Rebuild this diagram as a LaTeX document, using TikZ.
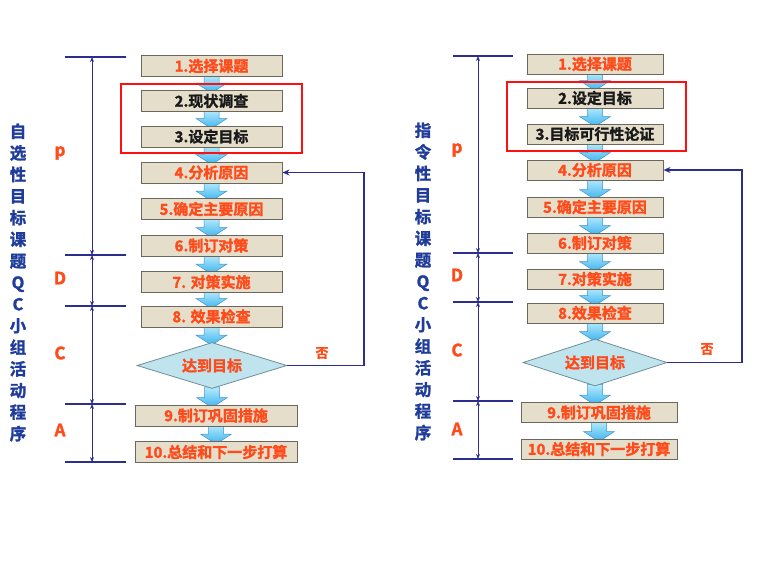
\documentclass[tikz,border=0pt]{standalone}
\usepackage{fontspec}
\setmainfont{Noto Sans CJK SC Bold}[FakeBold=1.6]
\usetikzlibrary{shapes.geometric,arrows.meta,calc}
\pgfdeclarelayer{bg}\pgfsetlayers{bg,main}
\definecolor{qcred}{HTML}{FF4A1A}
\definecolor{qcblue}{HTML}{1F3C9A}
\definecolor{navy}{HTML}{2B2E8C}
\definecolor{boxfill}{HTML}{E5DECB}
\definecolor{boxline}{HTML}{6B675C}
\definecolor{dfill}{HTML}{BFE4EE}
\definecolor{dline}{HTML}{6E8E98}
\definecolor{atop}{HTML}{B5ECFD}
\definecolor{abot}{HTML}{3EB2EE}
\definecolor{aline}{HTML}{3A92CC}
\definecolor{frame}{HTML}{FF1010}
\tikzset{
  stepbox/.style={draw=boxline, fill=boxfill, line width=1pt, inner sep=0pt,
    minimum width=#1, minimum height=21pt,
    font=\fontsize{15}{15}\selectfont, text=qcred},
  blk/.style={text=black!90},
  decide/.style={diamond, draw=dline, fill=dfill, line width=0.8pt, inner sep=0pt,
    minimum width=#1, minimum height=46pt, aspect=3.2,
    font=\fontsize{15}{15}\selectfont, text=qcred},
  redframe/.style={draw=frame, line width=2.6pt},
  fb/.style={draw=navy, line width=1.6pt, -{Stealth[length=7pt,width=6pt]}},
  tickline/.style={draw=navy, line width=1.8pt},
  brk/.style={draw=navy, line width=0.9pt, {Stealth[length=5pt,width=4pt]}-{Stealth[length=5pt,width=4pt]}},
  phase/.style={font=\fontsize{17}{17}\selectfont, text=qcred},
  nolabel/.style={font=\fontsize{13}{13}\selectfont, text=qcred},
  vtext/.style={font=\fontsize{16.5}{21.6}\selectfont, text=qcblue, align=center, inner sep=0pt},
  barrow/.style={top color=atop, bottom color=abot, draw=aline, line width=0.5pt}
}
\newcommand\blockarr[2]{%
  \begin{pgfonlayer}{bg}
  \path[barrow] let \p1=(#1.south), \p2=(#2.north) in
    (\x1-7.5pt,\y1+2pt) -- (\x1+7.5pt,\y1+2pt) -- (\x1+7.5pt,\y2+7pt) --
    (\x1+15.5pt,\y2+7pt) -- (\x1,\y2-3pt) -- (\x1-15.5pt,\y2+7pt) --
    (\x1-7.5pt,\y2+7pt) -- cycle;
  \end{pgfonlayer}}
\begin{document}
\begin{tikzpicture}[x=1pt,y=-1pt]
\useasboundingbox (0,0) rectangle (760,570);

% ---------------- LEFT PANEL ----------------
\node[stepbox=141] (L1) at (211.5,66) {1.选择课题};
\node[stepbox=141,blk] (L2) at (211.5,101) {2.现状调查};
\node[stepbox=141,blk] (L3) at (211.5,136.5) {3.设定目标};
\node[stepbox=141] (L4) at (211.5,172.5) {4.分析原因};
\node[stepbox=141] (L5) at (211.5,209) {5.确定主要原因};
\node[stepbox=141] (L6) at (211.5,245.5) {6.制订对策};
\node[stepbox=141] (L7) at (211.5,282) {7. 对策实施};
\node[stepbox=141] (L8) at (211.5,316.5) {8. 效果检查};
\node[decide=150] (LD) at (212,365.5) {达到目标};
\node[stepbox=162] (L9) at (216,415.5) {9.制订巩固措施};
\node[stepbox=162] (L10) at (216,452) {10.总结和下一步打算};

\blockarr{L1}{L2}\blockarr{L2}{L3}\blockarr{L3}{L4}\blockarr{L4}{L5}
\blockarr{L5}{L6}\blockarr{L6}{L7}\blockarr{L7}{L8}\blockarr{L8}{LD}
\blockarr{LD}{L9}\blockarr{L9}{L10}

\draw[redframe] (121,84) rectangle (302,153);

\coordinate (LF) at (364,0);
\draw[fb] (LD.east) -- (LD.east -| LF) |- (L4.east);
\node[nolabel] (Lno) at (322,353) {否};

\coordinate (Lt1) at (92,57);
\coordinate (Lt2) at (92,255);
\coordinate (Lt3) at (92,306);
\coordinate (Lt4) at (92,404);
\coordinate (Lt5) at (92,462);
\foreach \t in {Lt1,Lt2,Lt3,Lt4,Lt5}
  \draw[tickline] ([xshift=-27pt]\t) -- ([xshift=34pt]\t);
\draw[brk] (Lt1) -- (Lt2);
\draw[brk] (Lt2) -- (Lt3);
\draw[brk] (Lt3) -- (Lt4);
\draw[brk] (Lt4) -- (Lt5);
\node[phase] (Lp) at (60,153) {p};
\node[phase] (LDl) at (60,278) {D};
\node[phase] (LCl) at (60,353) {C};
\node[phase] (LAl) at (60,430) {A};
\node[vtext] (Lv) at (18,282.5) {自\\选\\性\\目\\标\\课\\题\\Q\\C\\小\\组\\活\\动\\程\\序};

% ---------------- RIGHT PANEL ----------------
\node[stepbox=136,minimum height=20pt] (R1) at (595,64) {1.选择课题};
\node[stepbox=136,minimum height=20pt,blk] (R2) at (595,98) {2.设定目标};
\node[stepbox=136,minimum height=20pt,blk] (R3) at (595,134) {3.目标可行性论证};
\node[stepbox=136,minimum height=20pt] (R4) at (595,170) {4.分析原因};
\node[stepbox=136,minimum height=20pt] (R5) at (595,207) {5.确定主要原因};
\node[stepbox=136,minimum height=20pt] (R6) at (595,243) {6.制订对策};
\node[stepbox=136,minimum height=20pt] (R7) at (595,279) {7.对策实施};
\node[stepbox=136,minimum height=20pt] (R8) at (595,313) {8.效果检查};
\node[decide=144,minimum height=47pt] (RD) at (595,362.5) {达到目标};
\node[stepbox=156,minimum height=20pt] (R9) at (599,412.5) {9.制订巩固措施};
\node[stepbox=156,minimum height=20pt] (R10) at (599,449) {10.总结和下一步打算};

\blockarr{R1}{R2}\blockarr{R2}{R3}\blockarr{R3}{R4}\blockarr{R4}{R5}
\blockarr{R5}{R6}\blockarr{R6}{R7}\blockarr{R7}{R8}\blockarr{R8}{RD}
\blockarr{RD}{R9}\blockarr{R9}{R10}

\draw[redframe] (507,82) rectangle (686,151);

\coordinate (RF) at (742,0);
\draw[fb] (RD.east) -- (RD.east -| RF) |- (R4.east);
\node[nolabel] (Rno) at (707,349) {否};

\coordinate (Rt1) at (478,56);
\coordinate (Rt2) at (478,253);
\coordinate (Rt3) at (478,302);
\coordinate (Rt4) at (478,401);
\coordinate (Rt5) at (478,459);
\foreach \t in {Rt1,Rt2,Rt3,Rt4,Rt5}
  \draw[tickline] ([xshift=-25pt]\t) -- ([xshift=35pt]\t);
\draw[brk] (Rt1) -- (Rt2);
\draw[brk] (Rt2) -- (Rt3);
\draw[brk] (Rt3) -- (Rt4);
\draw[brk] (Rt4) -- (Rt5);
\node[phase] (Rp) at (457,150) {p};
\node[phase] (RDl) at (457,275) {D};
\node[phase] (RCl) at (457,350) {C};
\node[phase] (RAl) at (457,429) {A};
\node[vtext] (Rv) at (423,281.5) {指\\令\\性\\目\\标\\课\\题\\Q\\C\\小\\组\\活\\动\\程\\序};
\end{tikzpicture}
\end{document}
